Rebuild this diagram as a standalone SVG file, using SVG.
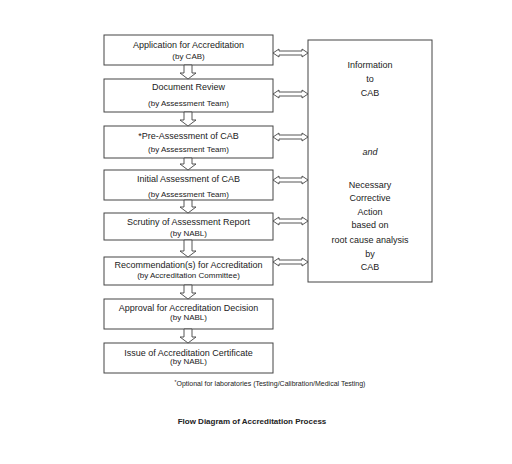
<svg xmlns="http://www.w3.org/2000/svg" width="512" height="464" viewBox="0 0 512 464">
<style>
.box{fill:#fff;stroke:#444;stroke-width:1}
.arr{fill:#fff;stroke:#444;stroke-width:0.9;stroke-linejoin:miter}
text{font-family:"Liberation Sans",Arial,sans-serif;fill:#222;text-anchor:middle}
.m{font-size:9px}
.s{font-size:8px}
.r{font-size:9px}
</style>
<defs>
<path id="dbl" d="M0,0 L6,-4 L6,-2 L29,-2 L29,-4 L35,0 L29,4 L29,2 L6,2 L6,4 Z"/>
</defs>
<rect width="512" height="464" fill="#fff"/>
<g id="n1"><rect class="box" x="104" y="35" width="169" height="30"/><text class="m" x="188.5" y="48">Application for Accreditation</text><text class="s" x="188.5" y="59">(by CAB)</text></g>
<g id="n2"><rect class="box" x="104" y="79" width="169" height="33"/><text class="m" x="188.5" y="90">Document Review</text><text class="s" x="188.5" y="106">(by Assessment Team)</text></g>
<g id="n3"><rect class="box" x="104" y="126" width="169" height="32"/><text class="m" x="188.5" y="139">*Pre-Assessment of CAB</text><text class="s" x="188.5" y="152">(by Assessment Team)</text></g>
<g id="n4"><rect class="box" x="104" y="170" width="169" height="30"/><text class="m" x="188.5" y="182">Initial Assessment of CAB</text><text class="s" x="188.5" y="197">(by Assessment Team)</text></g>
<g id="n5"><rect class="box" x="104" y="213" width="169" height="27"/><text class="m" x="188.5" y="225">Scrutiny of Assessment Report</text><text class="s" x="188.5" y="236">(by NABL)</text></g>
<g id="n6"><rect class="box" x="104" y="257" width="169" height="28"/><text class="m" x="188.5" y="268">Recommendation(s) for Accreditation</text><text class="s" x="188.5" y="278">(by Accreditation Committee)</text></g>
<g id="n7"><rect class="box" x="104" y="299" width="169" height="30"/><text class="m" x="188.5" y="311">Approval for Accreditation Decision</text><text class="s" x="188.5" y="320">(by NABL)</text></g>
<g id="n8"><rect class="box" x="104" y="343" width="169" height="30"/><text class="m" x="188.5" y="356">Issue of Accreditation Certificate</text><text class="s" x="188.5" y="364">(by NABL)</text></g>
<g id="info"><rect class="box" x="308" y="40" width="124" height="242"/>
<text class="r" x="370" y="68">Information</text>
<text class="r" x="370" y="82">to</text>
<text class="r" x="370" y="96">CAB</text>
<text class="r" x="370" y="155" font-style="italic">and</text>
<text class="r" x="370" y="188">Necessary</text>
<text class="r" x="370" y="201">Corrective</text>
<text class="r" x="370" y="215">Action</text>
<text class="r" x="370" y="228">based on</text>
<text class="r" x="370" y="243">root cause analysis</text>
<text class="r" x="370" y="257">by</text>
<text class="r" x="370" y="270">CAB</text>
</g>
<g id="connectors">
<path class="arr" d="M184,65 L192,65 L192,73 L196,73 L188,79 L180,73 L184,73 Z"/>
<path class="arr" d="M184,112 L192,112 L192,120 L196,120 L188,126 L180,120 L184,120 Z"/>
<path class="arr" d="M184,158 L192,158 L192,164 L196,164 L188,170 L180,164 L184,164 Z"/>
<path class="arr" d="M184,200 L192,200 L192,207 L196,207 L188,213 L180,207 L184,207 Z"/>
<path class="arr" d="M184,240 L192,240 L192,251 L196,251 L188,257 L180,251 L184,251 Z"/>
<path class="arr" d="M184,285 L192,285 L192,293 L196,293 L188,299 L180,293 L184,293 Z"/>
<path class="arr" d="M184,329 L192,329 L192,337 L196,337 L188,343 L180,337 L184,337 Z"/>
<use href="#dbl" class="arr" transform="translate(273,53)"/>
<use href="#dbl" class="arr" transform="translate(273,94)"/>
<use href="#dbl" class="arr" transform="translate(273,137)"/>
<use href="#dbl" class="arr" transform="translate(273,180)"/>
<use href="#dbl" class="arr" transform="translate(273,221)"/>
<use href="#dbl" class="arr" transform="translate(273,262)"/>
</g>
<text x="270" y="386" style="font-size:7px"><tspan style="font-size:5px" dy="-2">*</tspan><tspan dy="2">Optional for laboratories (Testing/Calibration/Medical Testing)</tspan></text>
<text x="252" y="424" style="font-size:8px;font-weight:bold">Flow Diagram of Accreditation Process</text>
</svg>
